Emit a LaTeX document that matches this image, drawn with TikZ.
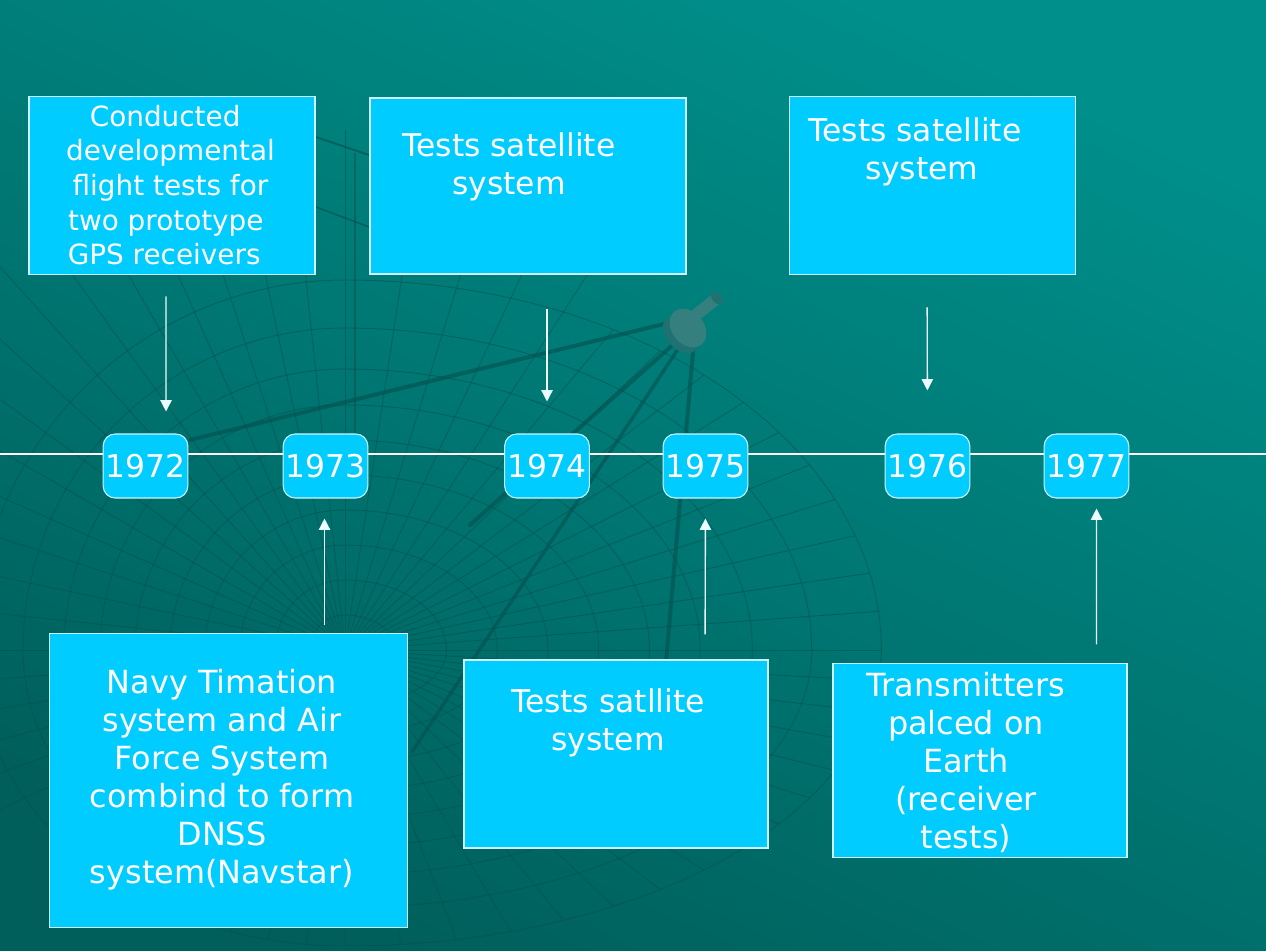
\documentclass[tikz,border=0pt]{standalone}
\usepackage{fontspec}
\setmainfont{DejaVu Sans}
\usetikzlibrary{arrows.meta,calc}
\definecolor{BoxCyan}{HTML}{00CCFF}
\definecolor{BgLight}{HTML}{008F8B}
\definecolor{BgDark}{HTML}{005F5B}
\definecolor{MeshTeal}{HTML}{00504E}
\definecolor{SatTeal}{HTML}{357F7F}
\definecolor{SatDark}{HTML}{1F7272}
\tikzset{
	>={Triangle[width=8.5pt,length=8.5pt]},
	infobox/.style={
		rectangle,
		fill=BoxCyan,
		draw=white!80!BoxCyan, line width=.8pt,
		inner sep=0pt},
	yearbox/.style={
		rectangle,
		rounded corners=9pt,
		fill=BoxCyan,
		draw=white!80!BoxCyan, line width=.8pt,
		inner sep=0pt,
		text=white,
		minimum width=63.5pt,
		minimum height=48pt,
		font=\fontsize{23.5}{28}\selectfont},
	boxtext/.style={
		text=white,
		align=center,
		inner sep=0pt,
		font=\fontsize{23.5}{28.5}\selectfont},
	largetext/.style={
		boxtext,
		font=\fontsize{23.9}{28.5}\selectfont},
	smalltext/.style={
		boxtext,
		font=\fontsize{20.9}{26}\selectfont},
	axisline/.style={draw=white, line width=1pt},
	yearline/.style={draw=white!92!BoxCyan, line width=1pt, ->},
	meshline/.style={draw=MeshTeal, line width=.7pt, opacity=.5},
	beamline/.style={draw=MeshTeal, opacity=.6, line cap=round},
}
\begin{document}
\begin{tikzpicture}[x=.75pt,y=-.75pt]
\useasboundingbox (0,0) rectangle (1266,950);
\fill[top color=BgLight, bottom color=BgDark, shading angle=-25] (0,0) rectangle (1266,950);

% globe mesh
\foreach \r in {35,70,105,140,175,210,245,281,322,370}
	\draw[meshline] plot[smooth, domain=0:360, samples=73, variable=\t]
	({345+\r*(cos(\t)>0 ? 1.45 : 1)*cos(\t)}, {650-\r*(sin(\t)>0 ? 1 : .8)*sin(\t)});
\foreach \t in {0,6,...,354}{
	\pgfmathsetmacro{\rr}{(\t>60 && \t<215) ? 520 : 370}
	\pgfmathsetmacro{\ex}{345+\rr*(cos(\t)>0 ? 1.45 : 1)*cos(\t)}
	\pgfmathsetmacro{\ey}{650-\rr*(sin(\t)>0 ? 1 : .8)*sin(\t)}
	\draw[meshline] (345,650) -- (\ex,\ey);
}
\draw[beamline, line width=1.5pt] (316,137) -- (369,155);
\draw[beamline, line width=1.2pt] (316,207) -- (369,227);
\draw[meshline, line width=1pt] (355,153) -- (355,496);

% satellite
\draw[beamline, line width=3pt] (190,440) -- (672,322);
\draw[beamline, line width=3pt] (676,342) -- (470,525);
\draw[beamline, line width=2.6pt] (680,346) -- (412,752);
\draw[beamline, line width=3pt] (693,352) -- (666,662);
\fill[SatDark, rotate around={40:(680,335)}] (680,335) ellipse (10pt and 16pt);
\fill[SatTeal, rotate around={40:(688,328)}] (688,328) ellipse (12pt and 16pt);
\draw[SatTeal, line width=9pt, line cap=round] (697,314) -- (716,299);
\fill[SatDark, rotate around={40:(717,298)}] (717,298) ellipse (3.5pt and 5.5pt);

% time axis
\coordinate (axisL) at (0,454);
\coordinate (axisR) at (1266,454);
\draw[axisline] (axisL) -- (axisR);

\node[yearbox] (y1972) at (145.5,466) {1972};
\node[yearbox] (y1973) at (325.5,466) {1973};
\node[yearbox] (y1974) at (547,466) {1974};
\node[yearbox] (y1975) at (705.5,466) {1975};
\node[yearbox] (y1976) at (927.5,466) {1976};
\node[yearbox] (y1977) at (1086.5,466) {1977};

\node[infobox, minimum width=214.5pt, minimum height=134pt] (flight) at (172,185.5) {};
\node[infobox, minimum width=237pt, minimum height=132pt] (testsA) at (528,186) {};
\node[infobox, minimum width=214pt, minimum height=134pt] (testsB) at (932.5,185.5) {};
\node[infobox, minimum width=269pt, minimum height=221pt] (navy) at (228.5,780.5) {};
\node[infobox, minimum width=228pt, minimum height=141pt] (testsC) at (616,754) {};
\node[infobox, minimum width=220.5pt, minimum height=145pt] (trans) at (980,760.5) {};

\node[smalltext] (flightText) at (170.5,185) {\hspace*{-8pt}Conducted\\developmental\\flight tests for\\\hspace*{-7pt}two prototype\\\hspace*{-9.5pt}GPS receivers};
\node[boxtext] (testsAText) at (509,166.5) {Tests satellite\\system};
\node[boxtext] (testsBText) at (915,151.5) {Tests satellite\\\hspace*{10pt}system};
\node[largetext] (navyText) at (222,780) {Navy Timation\\system and Air\\Force System\\combind to form\\DNSS\\system(Navstar)};
\node[boxtext] (testsCText) at (608,722.5) {Tests satllite\\system};
\node[largetext] (transText) at (966,762) {Transmitters\\palced on\\Earth\\(receiver\\tests)};

% arrows keep a gap to the boxes
\draw[yearline, shorten <=15.75pt, shorten >=16.5pt] ([xshift=-4.5pt]flight.south) -- ([xshift=15.4pt]y1972.north);
\draw[yearline, shorten <=25.5pt, shorten >=24pt] ([xshift=14.25pt]testsA.south) -- (y1974.north);
\draw[yearline, shorten <=24pt, shorten >=32.25pt] ([xshift=-4.1pt]testsB.south) -- (y1976.north);
\draw[yearline, shorten <=6pt, shorten >=15pt] ([xshift=72pt]navy.north) -- ([xshift=-.75pt]y1973.south);
\draw[yearline, shorten <=18.75pt, shorten >=15pt] ([xshift=66.75pt]testsC.north) -- (y1975.south);
\draw[yearline, shorten <=14.25pt, shorten >=7.5pt] ([xshift=87.4pt]trans.north) -- ([xshift=7.5pt]y1977.south);
\end{tikzpicture}
\end{document}
